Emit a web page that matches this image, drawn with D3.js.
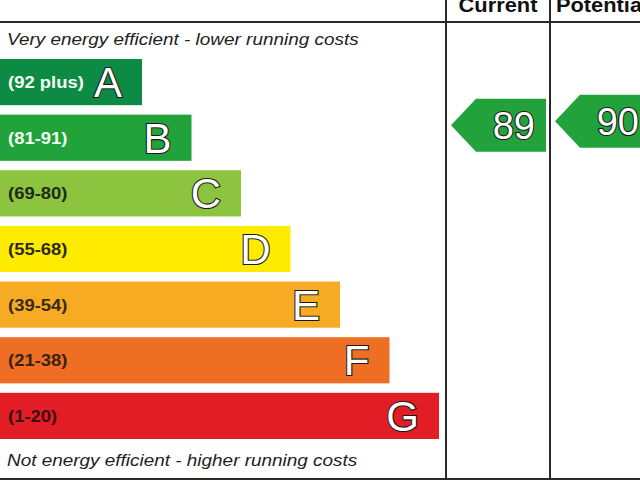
<!DOCTYPE html>
<html>
<head>
<meta charset="utf-8">
<script src="https://cdn.jsdelivr.net/npm/d3@7"></script>
<style>
  body { margin: 0; background: #fff; }
  svg { display: block; font-family: "Liberation Sans", Arial, sans-serif; }
</style>
</head>
<body>
<div class="epc-wrapper"></div>
<script>
// bands, top (most efficient) to bottom
const letters = ['A', 'B', 'C', 'D', 'E', 'F', 'G']
const ranges = ['(92 plus)', '(81-91)', '(69-80)', '(55-68)', '(39-54)', '(21-38)', '(1-20)']
const lows = [92, 81, 69, 55, 39, 21, 1]
const highs = [101, 91, 80, 68, 54, 38, 20]
const columns = ['Current', 'Potential']
const ratings = [89, 90]
const topNote = 'Very energy efficient - lower running costs'
const bottomNote = 'Not energy efficient - higher running costs'

const width = 640
const height = 480
const stretch = 1.12 // source picture is a little wide

const colours = d3.scaleOrdinal()
  .domain(letters)
  .range(['#0d8a44', '#22a23b', '#8cc43f', '#ffeb00', '#f7ab22', '#ee6f24', '#e31d26'])

const labelColours = d3.scaleOrdinal()
  .domain(letters)
  .range(['#f2fff2', '#f2fff2', '#1f2a1a', '#2a2a1a', '#3a2a1a', '#3a2212', '#3a1010'])

let y = d3.scaleBand().domain(letters).range([59, 439]).paddingInner(0.17).paddingOuter(0)

let barW = d3.scaleLinear().domain([0, letters.length - 1]).range([142, 439])

let colX = d3.scaleBand().domain(columns).range([446, 654])

const bandOf = score => letters[lows.findIndex(l => score >= l)]

// position of a score inside its band
function scoreY(score) {
  let i = letters.indexOf(bandOf(score))
  let t = (highs[i] - score) / (highs[i] - lows[i] + 1)
  return y(letters[i]) + y.bandwidth() * (t + 0.05)
}

let svg = d3.select('.epc-wrapper')
  .append('svg')
  .attr('width', width)
  .attr('height', height)

// frame lines
svg.append('line')
  .attr('x1', 0).attr('x2', width)
  .attr('y1', 22).attr('y2', 22)
  .attr('stroke', '#2a2a2a').attr('stroke-width', 2)

svg.append('line')
  .attr('x1', 0).attr('x2', width)
  .attr('y1', 479).attr('y2', 479)
  .attr('stroke', '#2a2a2a').attr('stroke-width', 2)

svg.selectAll('.col-line')
  .data(columns)
  .enter()
  .append('line')
  .attr('class', 'col-line')
  .attr('x1', d => colX(d)).attr('x2', d => colX(d))
  .attr('y1', 0).attr('y2', height)
  .attr('stroke', '#2a2a2a').attr('stroke-width', 2)

// column headers
svg.selectAll('.col-head')
  .data(columns)
  .enter()
  .append('text')
  .attr('class', 'col-head')
  .attr('transform', d => 'translate(' + (colX(d) + colX.bandwidth() / 2) + ',12) scale(' + stretch + ',1)')
  .attr('text-anchor', 'middle')
  .attr('font-size', 19.5)
  .attr('font-weight', 'bold')
  .attr('fill', '#111')
  .text(d => d)

// notes
svg.append('text')
  .attr('transform', 'translate(7,45) scale(' + stretch + ',1)')
  .attr('font-size', 16.9)
  .attr('font-style', 'italic')
  .attr('fill', '#222')
  .text(topNote)

svg.append('text')
  .attr('transform', 'translate(7,466) scale(' + stretch + ',1)')
  .attr('font-size', 16.9)
  .attr('font-style', 'italic')
  .attr('fill', '#222')
  .text(bottomNote)

// bars
let bars = svg.selectAll('.band')
  .data(letters)
  .enter()
  .append('g')
  .attr('class', 'band')

bars.append('rect')
  .attr('x', 0)
  .attr('y', d => y(d))
  .attr('width', (d, i) => barW(i))
  .attr('height', y.bandwidth())
  .attr('fill', d => colours(d))

bars.append('text')
  .attr('transform', d => 'translate(8,' + (y(d) + y.bandwidth() / 2 + 6) + ') scale(' + stretch + ',1)')
  .attr('font-size', 16.5)
  .attr('font-weight', 'bold')
  .attr('fill', d => labelColours(d))
  .text((d, i) => ranges[i])

bars.append('text')
  .attr('x', (d, i) => barW(i) - 20)
  .attr('y', d => y(d) + y.bandwidth() / 2 + 15)
  .attr('text-anchor', 'end')
  .attr('font-size', 42)
  .attr('fill', '#fff')
  .attr('stroke', '#1a1a1a')
  .attr('stroke-width', 2.2)
  .attr('paint-order', 'stroke')
  .text(d => d)

// rating arrows
const arrowH = 53
const notch = 25

let arrows = svg.selectAll('.rating')
  .data(ratings)
  .enter()
  .append('g')
  .attr('class', 'rating')

arrows.append('path')
  .attr('d', (d, i) => {
    let x0 = colX(columns[i]) + 5
    let x1 = colX(columns[i]) + colX.bandwidth() - 4
    let cy = scoreY(d)
    return d3.line()([
      [x0, cy],
      [x0 + notch, cy - arrowH / 2],
      [x1, cy - arrowH / 2],
      [x1, cy + arrowH / 2],
      [x0 + notch, cy + arrowH / 2]
    ]) + 'Z'
  })
  .attr('fill', d => colours(bandOf(d)))

arrows.append('text')
  .attr('x', (d, i) => colX(columns[i]) + colX.bandwidth() - 15)
  .attr('y', d => scoreY(d) + 14)
  .attr('text-anchor', 'end')
  .attr('font-size', 38)
  .attr('fill', '#fff')
  .attr('stroke', '#1a1a1a')
  .attr('stroke-width', 2.2)
  .attr('paint-order', 'stroke')
  .text(d => d)
</script>
</body>
</html>
